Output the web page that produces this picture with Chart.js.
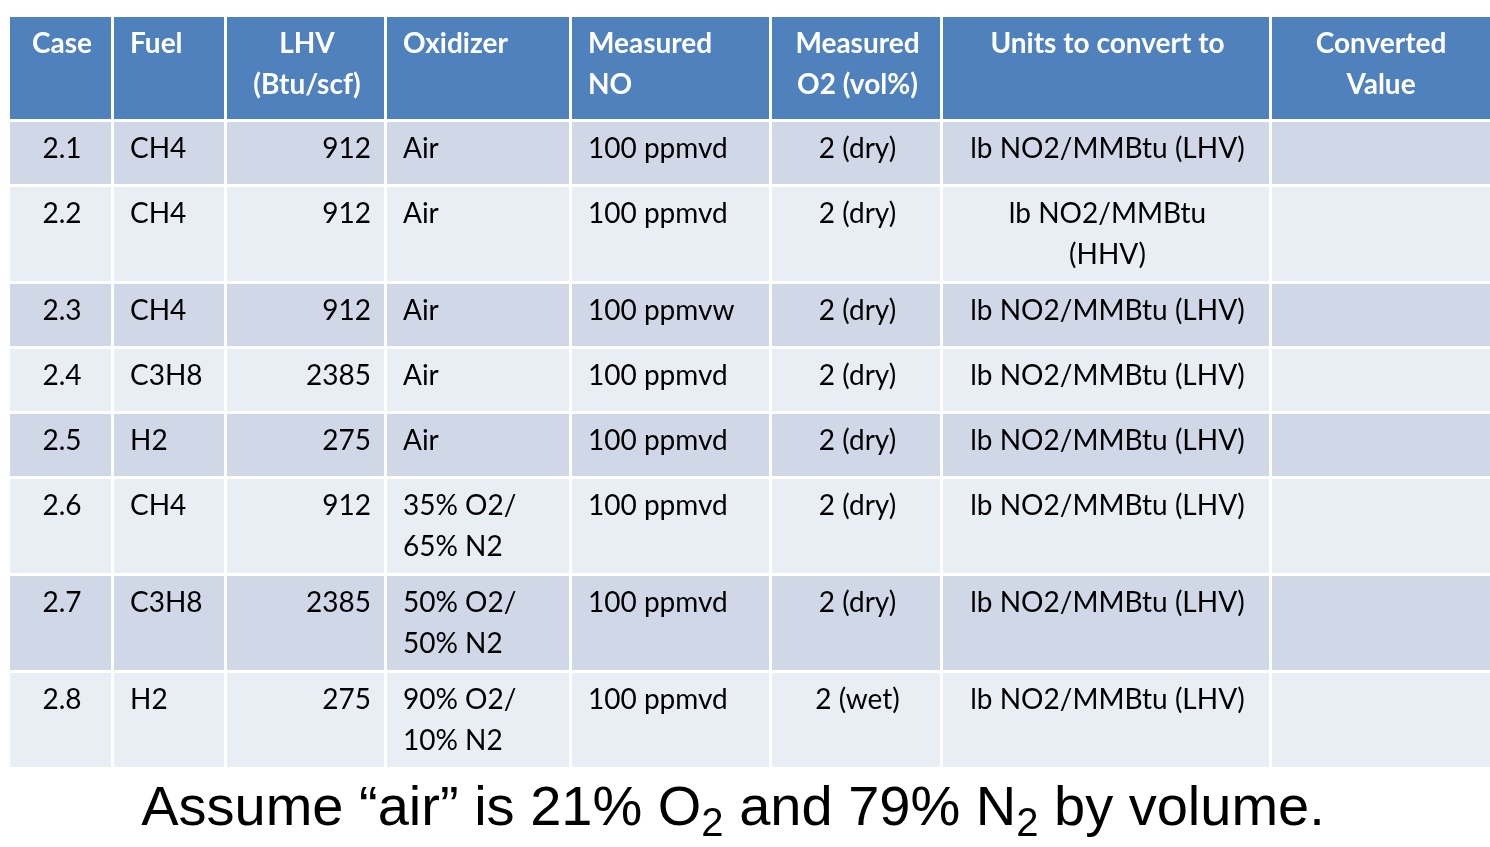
<!DOCTYPE html>
<html><head><meta charset="utf-8">
<script src="https://cdn.jsdelivr.net/npm/chart.js@4"></script>
<style>html,body{margin:0;padding:0;background:#fff}#wrap{width:1490px;height:847px}</style>
</head><body><div id="wrap"><canvas id="c" width="1490" height="847"></canvas></div>
<script>
const headers = ["Case","Fuel","LHV\n(Btu/scf)","Oxidizer","Measured\nNO","Measured\nO2 (vol%)","Units to convert to","Converted\nValue"];
const cases = ["2.1","2.2","2.3","2.4","2.5","2.6","2.7","2.8"];
const fuels = ["CH4","CH4","CH4","C3H8","H2","CH4","C3H8","H2"];
const lhv = ["912","912","912","2385","275","912","2385","275"];
const oxidizers = ["Air","Air","Air","Air","Air","35% O2/\n65% N2","50% O2/\n50% N2","90% O2/\n10% N2"];
const measuredNO = ["100 ppmvd","100 ppmvd","100 ppmvw","100 ppmvd","100 ppmvd","100 ppmvd","100 ppmvd","100 ppmvd"];
const measuredO2 = ["2 (dry)","2 (dry)","2 (dry)","2 (dry)","2 (dry)","2 (dry)","2 (dry)","2 (wet)"];
const units = ["lb NO2/MMBtu (LHV)","lb NO2/MMBtu\n(HHV)","lb NO2/MMBtu (LHV)","lb NO2/MMBtu (LHV)","lb NO2/MMBtu (LHV)","lb NO2/MMBtu (LHV)","lb NO2/MMBtu (LHV)","lb NO2/MMBtu (LHV)"];
const converted = ["","","","","","","",""];
const footnote = "Assume “air” is 21% O2 and 79% N2 by volume.";

const columns = [cases,fuels,lhv,oxidizers,measuredNO,measuredO2,units,converted];
const colEdges = [10,114,227,387,572,772,943,1272,1490];
const bodyAlign = ["center","left","right","left","left","center","center","center"];
const headAlign = ["center","left","center","left","left","center","center","center"];

const tablePlugin = {
  id:'table',
  afterDraw(chart){
    const ctx = chart.ctx, xs = chart.scales.x, ys = chart.scales.y;
    const X = v=>xs.getPixelForValue(v), Y = v=>ys.getPixelForValue(v);
    function cellText(txt, c, top, align, font, color){
      ctx.font = font; ctx.fillStyle = color; ctx.textBaseline='alphabetic';
      const x0=X(colEdges[c]), x1=X(colEdges[c+1]);
      let x; if(align==='left'){x=x0+16;} else if(align==='right'){x=x1-16;} else {x=(x0+x1)/2;}
      ctx.textAlign = align;
      txt.split("\n").forEach((l,i)=>ctx.fillText(l,x,Y(top+36+i*41)));
    }
    // header
    let y=17;
    for(let c=0;c<8;c++){
      ctx.fillStyle='#4F81BD';
      ctx.fillRect(X(colEdges[c]),Y(y),X(colEdges[c+1])-X(colEdges[c])-(c<7?3:0),Y(y+102)-Y(y));
      cellText(headers[c],c,y,headAlign[c],'bold 28px Lato','#fff');
    }
    y+=105;
    for(let r=0;r<cases.length;r++){
      const lines=Math.max(...columns.map(col=>col[r].split("\n").length));
      const h = lines>1?94:62;
      for(let c=0;c<8;c++){
        ctx.fillStyle = r%2===0?'#D0D8E8':'#E9EDF4';
        ctx.fillRect(X(colEdges[c]),Y(y),X(colEdges[c+1])-X(colEdges[c])-(c<7?3:0),Y(y+h)-Y(y));
        cellText(columns[c][r],c,y,bodyAlign[c],'28px Lato','#000');
      }
      y+=h+3;
    }
    // footnote with subscripts
    ctx.fillStyle='#000'; ctx.textAlign='left';
    const parts=[["Assume “air” is 21% O",0],["2",1],[" and 79% N",0],["2",1],[" by volume.",0]];
    let w=0; parts.forEach(p=>{ctx.font=p[1]?'40px "Liberation Sans"':'56px "Liberation Sans"';w+=ctx.measureText(p[0]).width;});
    let x=X(733)-w/2;
    parts.forEach(p=>{ctx.font=p[1]?'40px "Liberation Sans"':'56px "Liberation Sans"';ctx.fillText(p[0],x,Y(p[1]?836:825));x+=ctx.measureText(p[0]).width;});
  }
};

new Chart(document.getElementById('c'),{
  type:'scatter',
  data:{datasets:[{data:[]}]},
  options:{responsive:false,animation:false,events:[],
    layout:{padding:0},
    plugins:{legend:{display:false},tooltip:{enabled:false}},
    scales:{x:{type:'linear',min:0,max:1490,display:false},y:{type:'linear',min:0,max:847,reverse:true,display:false}}},
  plugins:[tablePlugin]
});
</script></body></html>
